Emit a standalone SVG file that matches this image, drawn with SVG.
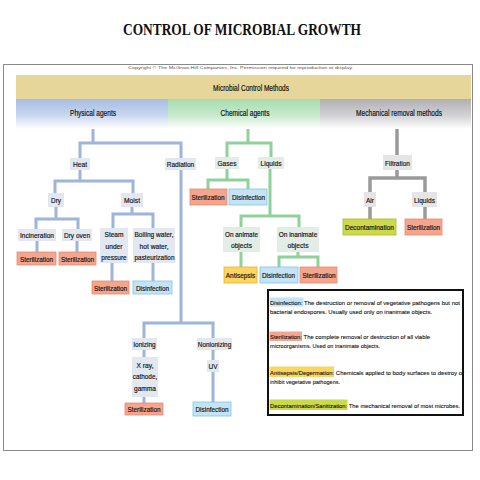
<svg xmlns="http://www.w3.org/2000/svg" width="480" height="480" viewBox="0 0 480 480">
<defs>
<linearGradient id="gBlue" x1="0" y1="0" x2="0" y2="1"><stop offset="0" stop-color="#a7bde3"/><stop offset="0.55" stop-color="#c9d7ef"/><stop offset="1" stop-color="#ffffff"/></linearGradient>
<linearGradient id="gGreen" x1="0" y1="0" x2="0" y2="1"><stop offset="0" stop-color="#a6dcae"/><stop offset="0.55" stop-color="#c8eacd"/><stop offset="1" stop-color="#ffffff"/></linearGradient>
<linearGradient id="gGray" x1="0" y1="0" x2="0" y2="1"><stop offset="0" stop-color="#b0b0b4"/><stop offset="0.55" stop-color="#d2d2d5"/><stop offset="1" stop-color="#ffffff"/></linearGradient>
</defs>
<style>
.t{font-family:"Liberation Sans",Arial,sans-serif;font-size:8px;fill:#111;stroke:#111;stroke-width:0.18;text-anchor:middle}
.h{font-size:9px}
.lg{font-family:"Liberation Sans",Arial,sans-serif;font-size:6px;fill:#111;stroke:#111;stroke-width:0.1}
.bp{fill:#e3e7f0}
.bc{fill:#e3ede5}
.bm{fill:#e5e5e6}
.st{fill:#f3a58e;stroke:#e68b72;stroke-width:0.8}
.di{fill:#c4e4f6;stroke:#86c3e6;stroke-width:0.8}
.an{fill:#fbd462;stroke:#e9b52a;stroke-width:0.8}
.de{fill:#cbd94c;stroke:#a9bb2a;stroke-width:0.8}
.cp{stroke:#9db5da;stroke-width:3;fill:none}
.cc{stroke:#8ed19b;stroke-width:3;fill:none}
.cm{stroke:#9a9a9c;stroke-width:3.5;fill:none}
</style>
<rect width="480" height="480" fill="#ffffff"/>
<text x="123" y="35" font-family="Liberation Serif,serif" font-weight="bold" font-size="16" textLength="238" lengthAdjust="spacingAndGlyphs" fill="#111">CONTROL OF MICROBIAL GROWTH</text>
<rect x="3.5" y="64.5" width="469" height="386" fill="none" stroke="#8a8a8a" stroke-width="1"/>
<text x="128" y="68.5" font-family="Liberation Sans,sans-serif" font-size="4.4" fill="#555" textLength="225" lengthAdjust="spacingAndGlyphs">Copyright © The McGraw-Hill Companies, Inc. Permission required for reproduction or display.</text>
<g id="header">
<rect x="16" y="75" width="455" height="24" fill="#e7d699"/>
<text class="t h" x="251" y="91" textLength="76" lengthAdjust="spacingAndGlyphs">Microbial Control Methods</text>
</g>
<g id="physical-agents">
<rect x="16" y="99" width="152" height="30" fill="url(#gBlue)"/>
<text class="t h" x="93" y="116" textLength="46" lengthAdjust="spacingAndGlyphs">Physical agents</text>
</g>
<g id="chemical-agents">
<rect x="168" y="99" width="152" height="30" fill="url(#gGreen)"/>
<text class="t h" x="245" y="116" textLength="49" lengthAdjust="spacingAndGlyphs">Chemical agents</text>
</g>
<g id="mechanical-methods">
<rect x="320" y="99" width="151" height="30" fill="url(#gGray)"/>
<text class="t h" x="399" y="116" textLength="86" lengthAdjust="spacingAndGlyphs">Mechanical removal methods</text>
</g>
<g id="connectors">
<path class="cp" d="M93 129V143M80 158V143H181V323M80 170V181M55 193V181H133V193M56 207V219M36 229V219H78V229M37 241V252M77 241V252M132 207V214M113 228V214H153V228M112 263V281M153 263V281M144 338V323H213V338M144 350V357M213 350V360M213 372V402"/>
<path class="cp" d="M144 397V403" stroke-width="1.5"/>
<path class="cc" d="M248 129V143M227 157V143H271V157M227 168V180M208 189V180H248V189M270 168V216M241 227V216H299V227M241 252V267M298 252V257M279 267V257H318V267"/>
<path class="cm" d="M397 129V155M397 170V178M370 192V178H425V192M370 207V219M425 207V219"/>
</g>
<g id="heat"><rect class="bp" x="70" y="158" width="20" height="12"/><text class="t" x="80" y="167" textLength="14" lengthAdjust="spacingAndGlyphs">Heat</text></g>
<g id="radiation"><rect class="bp" x="165" y="158" width="31" height="12"/><text class="t" x="180.5" y="167" textLength="27.5" lengthAdjust="spacingAndGlyphs">Radiation</text></g>
<g id="dry"><rect class="bp" x="48" y="193" width="16" height="14"/><text class="t" x="56" y="203" textLength="10" lengthAdjust="spacingAndGlyphs">Dry</text></g>
<g id="moist"><rect class="bp" x="121" y="193" width="22" height="14"/><text class="t" x="132" y="203" textLength="16" lengthAdjust="spacingAndGlyphs">Moist</text></g>
<g id="incineration"><rect class="bp" x="18" y="229" width="38" height="12"/><text class="t" x="37" y="238" textLength="34" lengthAdjust="spacingAndGlyphs">Incineration</text></g>
<g id="dry-oven"><rect class="bp" x="62" y="229" width="30" height="12"/><text class="t" x="77" y="238" textLength="26" lengthAdjust="spacingAndGlyphs">Dry oven</text></g>
<g id="steri-incineration"><rect class="st" x="17" y="252" width="39" height="13"/><text class="t" x="36.5" y="261.5" textLength="33" lengthAdjust="spacingAndGlyphs">Sterilization</text></g>
<g id="steri-dry-oven"><rect class="st" x="59" y="252" width="37" height="13"/><text class="t" x="77.5" y="261.5" textLength="33" lengthAdjust="spacingAndGlyphs">Sterilization</text></g>
<g id="steam"><rect class="bp" x="100" y="228" width="28" height="35"/><text class="t" x="114" y="237" textLength="19" lengthAdjust="spacingAndGlyphs">Steam</text><text class="t" x="114" y="248.5" textLength="17" lengthAdjust="spacingAndGlyphs">under</text><text class="t" x="114" y="260" textLength="25.5" lengthAdjust="spacingAndGlyphs">pressure</text></g>
<g id="boiling"><rect class="bp" x="133" y="228" width="42" height="35"/><text class="t" x="154" y="237" textLength="39" lengthAdjust="spacingAndGlyphs">Boiling water,</text><text class="t" x="154" y="248.5" textLength="29" lengthAdjust="spacingAndGlyphs">hot water,</text><text class="t" x="154.5" y="260" textLength="40" lengthAdjust="spacingAndGlyphs">pasteurization</text></g>
<g id="steri-steam"><rect class="st" x="92" y="281" width="37" height="13"/><text class="t" x="110.5" y="290.5" textLength="33" lengthAdjust="spacingAndGlyphs">Sterilization</text></g>
<g id="disin-boiling"><rect class="di" x="133" y="281" width="39" height="13"/><text class="t" x="152.5" y="290.5" textLength="33" lengthAdjust="spacingAndGlyphs">Disinfection</text></g>
<g id="ionizing"><rect class="bp" x="132" y="338" width="25" height="12"/><text class="t" x="144.5" y="347" textLength="22.5" lengthAdjust="spacingAndGlyphs">Ionizing</text></g>
<g id="nonionizing"><rect class="bp" x="197" y="338" width="35" height="12"/><text class="t" x="214.5" y="347" textLength="33.5" lengthAdjust="spacingAndGlyphs">Nonionizing</text></g>
<g id="xray"><rect class="bp" x="132" y="357" width="26" height="40"/><text class="t" x="145" y="367.5" textLength="17" lengthAdjust="spacingAndGlyphs">X ray,</text><text class="t" x="145" y="379" textLength="24.5" lengthAdjust="spacingAndGlyphs">cathode,</text><text class="t" x="145" y="390.5" textLength="22" lengthAdjust="spacingAndGlyphs">gamma</text></g>
<g id="uv"><rect class="bp" x="207" y="360" width="12" height="12"/><text class="t" x="213" y="369" textLength="9" lengthAdjust="spacingAndGlyphs">UV</text></g>
<g id="steri-ionizing"><rect class="st" x="125" y="403" width="38" height="12"/><text class="t" x="144" y="412" textLength="33" lengthAdjust="spacingAndGlyphs">Sterilization</text></g>
<g id="disin-uv"><rect class="di" x="193" y="402" width="38" height="14"/><text class="t" x="212" y="412" textLength="33" lengthAdjust="spacingAndGlyphs">Disinfection</text></g>
<g id="gases"><rect class="bc" x="215" y="157" width="24" height="12"/><text class="t" x="227" y="166" textLength="19" lengthAdjust="spacingAndGlyphs">Gases</text></g>
<g id="liquids-chem"><rect class="bc" x="258" y="157" width="26" height="12"/><text class="t" x="271" y="166" textLength="21" lengthAdjust="spacingAndGlyphs">Liquids</text></g>
<g id="steri-gases"><rect class="st" x="190" y="189" width="37" height="16"/><text class="t" x="208" y="200" textLength="33" lengthAdjust="spacingAndGlyphs">Sterilization</text></g>
<g id="disin-gases"><rect class="di" x="229" y="189" width="38" height="16"/><text class="t" x="248.5" y="200" textLength="33" lengthAdjust="spacingAndGlyphs">Disinfection</text></g>
<g id="animate"><rect class="bc" x="223" y="227" width="37" height="25"/><text class="t" x="241.5" y="237" textLength="33" lengthAdjust="spacingAndGlyphs">On animate</text><text class="t" x="241.5" y="248" textLength="21" lengthAdjust="spacingAndGlyphs">objects</text></g>
<g id="inanimate"><rect class="bc" x="277" y="227" width="42" height="25"/><text class="t" x="298" y="237" textLength="38.5" lengthAdjust="spacingAndGlyphs">On inanimate</text><text class="t" x="298" y="248" textLength="21" lengthAdjust="spacingAndGlyphs">objects</text></g>
<g id="antisepsis"><rect class="an" x="224" y="267" width="33" height="16"/><text class="t" x="240.5" y="278" textLength="29.5" lengthAdjust="spacingAndGlyphs">Antisepsis</text></g>
<g id="disin-inanimate"><rect class="di" x="260" y="267" width="38" height="16"/><text class="t" x="278.5" y="278" textLength="33" lengthAdjust="spacingAndGlyphs">Disinfection</text></g>
<g id="steri-inanimate"><rect class="st" x="300" y="267" width="37" height="16"/><text class="t" x="319" y="278" textLength="33" lengthAdjust="spacingAndGlyphs">Sterilization</text></g>
<g id="filtration"><rect class="bm" x="383" y="155" width="29" height="15"/><text class="t" x="397.5" y="165.5" textLength="25" lengthAdjust="spacingAndGlyphs">Filtration</text></g>
<g id="air"><rect class="bm" x="364" y="192" width="12" height="15"/><text class="t" x="370" y="202.5" textLength="8" lengthAdjust="spacingAndGlyphs">Air</text></g>
<g id="liquids-mech"><rect class="bm" x="412" y="192" width="25" height="15"/><text class="t" x="424.5" y="202.5" textLength="21" lengthAdjust="spacingAndGlyphs">Liquids</text></g>
<g id="decontamination"><rect class="de" x="343" y="219" width="53" height="16"/><text class="t" x="369.5" y="230" textLength="49" lengthAdjust="spacingAndGlyphs">Decontamination</text></g>
<g id="steri-liquids"><rect class="st" x="405" y="219" width="37" height="16"/><text class="t" x="423.5" y="230" textLength="33" lengthAdjust="spacingAndGlyphs">Sterilization</text></g>
<g id="legend">
<rect x="268" y="290" width="195" height="125" fill="#ffffff" stroke="#111" stroke-width="2"/>
<rect x="269.5" y="297.5" width="34" height="9" fill="#c4e4f6"/>
<text class="lg" x="270" y="304.5" textLength="190" lengthAdjust="spacingAndGlyphs">Disinfection: The destruction or removal of vegetative pathogens but not</text>
<text class="lg" x="270" y="313.5" textLength="162" lengthAdjust="spacingAndGlyphs">bacterial endospores. Usually used only on inanimate objects.</text>
<rect x="269.5" y="331.5" width="32.5" height="9.5" fill="#f3a58e"/>
<text class="lg" x="270" y="338.5" textLength="160" lengthAdjust="spacingAndGlyphs">Sterilization: The complete removal or destruction of all viable</text>
<text class="lg" x="270" y="348" textLength="110" lengthAdjust="spacingAndGlyphs">microorganisms. Used on inanimate objects.</text>
<rect x="269.5" y="366.5" width="64.5" height="10.5" fill="#fbd462"/>
<text class="lg" x="270" y="374.5" textLength="194" lengthAdjust="spacingAndGlyphs">Antisepsis/Degermation: Chemicals applied to body surfaces to destroy or</text>
<text class="lg" x="270" y="384" textLength="70" lengthAdjust="spacingAndGlyphs">inhibit vegetative pathogens.</text>
<rect x="269.5" y="399.5" width="78" height="10.5" fill="#cbd94c"/>
<text class="lg" x="270" y="407.5" textLength="190" lengthAdjust="spacingAndGlyphs">Decontamination/Sanitization: The mechanical removal of most microbes.</text>
</g>
</svg>
